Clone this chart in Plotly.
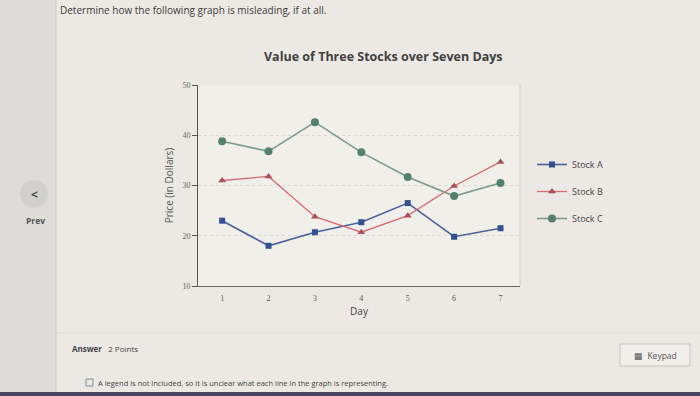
import plotly.graph_objects as go

days = [1, 2, 3, 4, 5, 6, 7]
stock_a = [23.0, 18.0, 20.7, 22.7, 26.5, 19.8, 21.5]
stock_b = [31.0, 31.8, 23.8, 20.7, 24.0, 29.9, 34.7]
stock_c = [38.8, 36.8, 42.6, 36.6, 31.7, 27.9, 30.5]
y_ticks = [10, 20, 30, 40, 50]

W, H = 700, 396
L, R, T, B = 198, 180, 85, 110
PW, PH = W - L - R, H - T - B


def px(x):
    return (x - L) / PW


def py(y):
    return (H - B - y) / PH


fig = go.Figure()
fig.add_trace(go.Scatter(x=days, y=stock_a, name="Stock A", mode="lines+markers",
                         line=dict(color="#4a619c", width=1.6),
                         marker=dict(symbol="square", size=6, color="#34508f"),
                         legendgroup="a"))
fig.add_trace(go.Scatter(x=days, y=stock_b, name="Stock B", mode="lines+markers",
                         line=dict(color="#d46a72", width=1.3),
                         marker=dict(symbol="triangle-up", size=7, color="#a8535c"),
                         legendgroup="b"))
fig.add_trace(go.Scatter(x=days, y=stock_c, name="Stock C", mode="lines+markers",
                         line=dict(color="#7f9a88", width=1.6),
                         marker=dict(symbol="circle", size=8, color="#55806a"),
                         legendgroup="c"))

shapes = [
    dict(type="rect", xref="paper", yref="paper", x0=px(0), x1=px(56), y0=py(396), y1=py(0),
         fillcolor="#dedcd8", line=dict(width=0), layer="below"),
    dict(type="line", xref="paper", yref="paper", x0=px(56), x1=px(56), y0=py(392), y1=py(0),
         line=dict(color="#c9c6c1", width=1)),
    dict(type="line", xref="paper", yref="paper", x0=px(56), x1=px(700), y0=py(333), y1=py(333),
         line=dict(color="#dcd9d4", width=1)),
    dict(type="circle", xref="paper", yref="paper", x0=px(20), x1=px(48), y0=py(208), y1=py(180),
         fillcolor="#d2d0cc", line=dict(width=0)),
    dict(type="rect", xref="paper", yref="paper", x0=px(620), x1=px(690), y0=py(366), y1=py(344),
         fillcolor="#f1efeb", line=dict(color="#c8c5c0", width=1)),
    dict(type="rect", xref="paper", yref="paper", x0=px(86), x1=px(93), y0=py(386), y1=py(379),
         fillcolor="rgba(0,0,0,0)", line=dict(color="#7a8aa0", width=1)),
    dict(type="rect", xref="paper", yref="paper", x0=px(0), x1=px(700), y0=py(396), y1=py(392),
         fillcolor="#4a4560", line=dict(width=0)),
    dict(type="line", xref="paper", yref="paper", x0=1, x1=1, y0=0, y1=1,
         line=dict(color="#cfccc7", width=1)),
]

annotations = [
    dict(text="Determine how the following graph is misleading, if at all.", x=px(58), y=py(10),
         xref="paper", yref="paper", xanchor="left", yanchor="middle", showarrow=False,
         font=dict(family="Open Sans", size=10, color="#3a3a3a")),
    dict(text="<b>Value of Three Stocks over Seven Days</b>", x=px(383), y=py(57),
         xref="paper", yref="paper", xanchor="center", yanchor="middle", showarrow=False,
         font=dict(family="Open Sans", size=12.5, color="#404040")),
    dict(text="<b><</b>", x=px(34), y=py(194), xref="paper", yref="paper", xanchor="center",
         yanchor="middle", showarrow=False, font=dict(family="Open Sans", size=12, color="#444")),
    dict(text="<b>Prev</b>", x=px(35), y=py(220), xref="paper", yref="paper", xanchor="center",
         yanchor="middle", showarrow=False, font=dict(family="Open Sans", size=8.5, color="#555")),
    dict(text="<b>Answer</b>   2 Points", x=px(70), y=py(348), xref="paper", yref="paper",
         xanchor="left", yanchor="middle", showarrow=False,
         font=dict(family="Open Sans", size=8, color="#444")),
    dict(text="▦  Keypad", x=px(655), y=py(355), xref="paper", yref="paper", xanchor="center",
         yanchor="middle", showarrow=False, font=dict(family="Open Sans", size=8.5, color="#555")),
    dict(text="A legend is not included, so it is unclear what each line in the graph is representing.",
         x=px(96), y=py(383), xref="paper", yref="paper", xanchor="left", yanchor="middle",
         showarrow=False, font=dict(family="Open Sans", size=7.5, color="#444")),
]

fig.update_layout(
    width=W, height=H,
    margin=dict(l=L, r=R, t=T, b=B, pad=0),
    paper_bgcolor="#ece9e4",
    plot_bgcolor="#f1efea",
    showlegend=True,
    legend=dict(x=px(532), y=py(150), xanchor="left", yanchor="top",
                font=dict(family="Open Sans", size=9, color="#444"),
                bgcolor="rgba(0,0,0,0)", tracegroupgap=8, itemwidth=30),
    shapes=shapes,
    annotations=annotations,
    xaxis=dict(range=[0.48, 7.42], tickvals=days, ticktext=[str(d) for d in days],
               showgrid=False, zeroline=False, showline=True, linecolor="#666", linewidth=1,
               ticks="outside", ticklen=4, tickcolor="rgba(0,0,0,0)",
               tickfont=dict(family="Liberation Serif", size=8, color="#555"),
               title=dict(text="Day", font=dict(family="Open Sans", size=10, color="#444"),
                          standoff=6)),
    yaxis=dict(range=[10, 50], tickvals=y_ticks, showgrid=True, gridcolor="#d8d5d0",
               griddash="dot", zeroline=False, showline=True, linecolor="#555", linewidth=1,
               ticks="outside", ticklen=5, tickcolor="#555",
               tickfont=dict(family="Liberation Serif", size=8, color="#666"),
               title=dict(text="Price (in Dollars)",
                          font=dict(family="Open Sans", size=10, color="#555"), standoff=6)),
)

fig.write_html("out.html", config={"displayModeBar": False},
               post_script="document.body.style.margin='0';document.body.style.overflow='hidden';")
